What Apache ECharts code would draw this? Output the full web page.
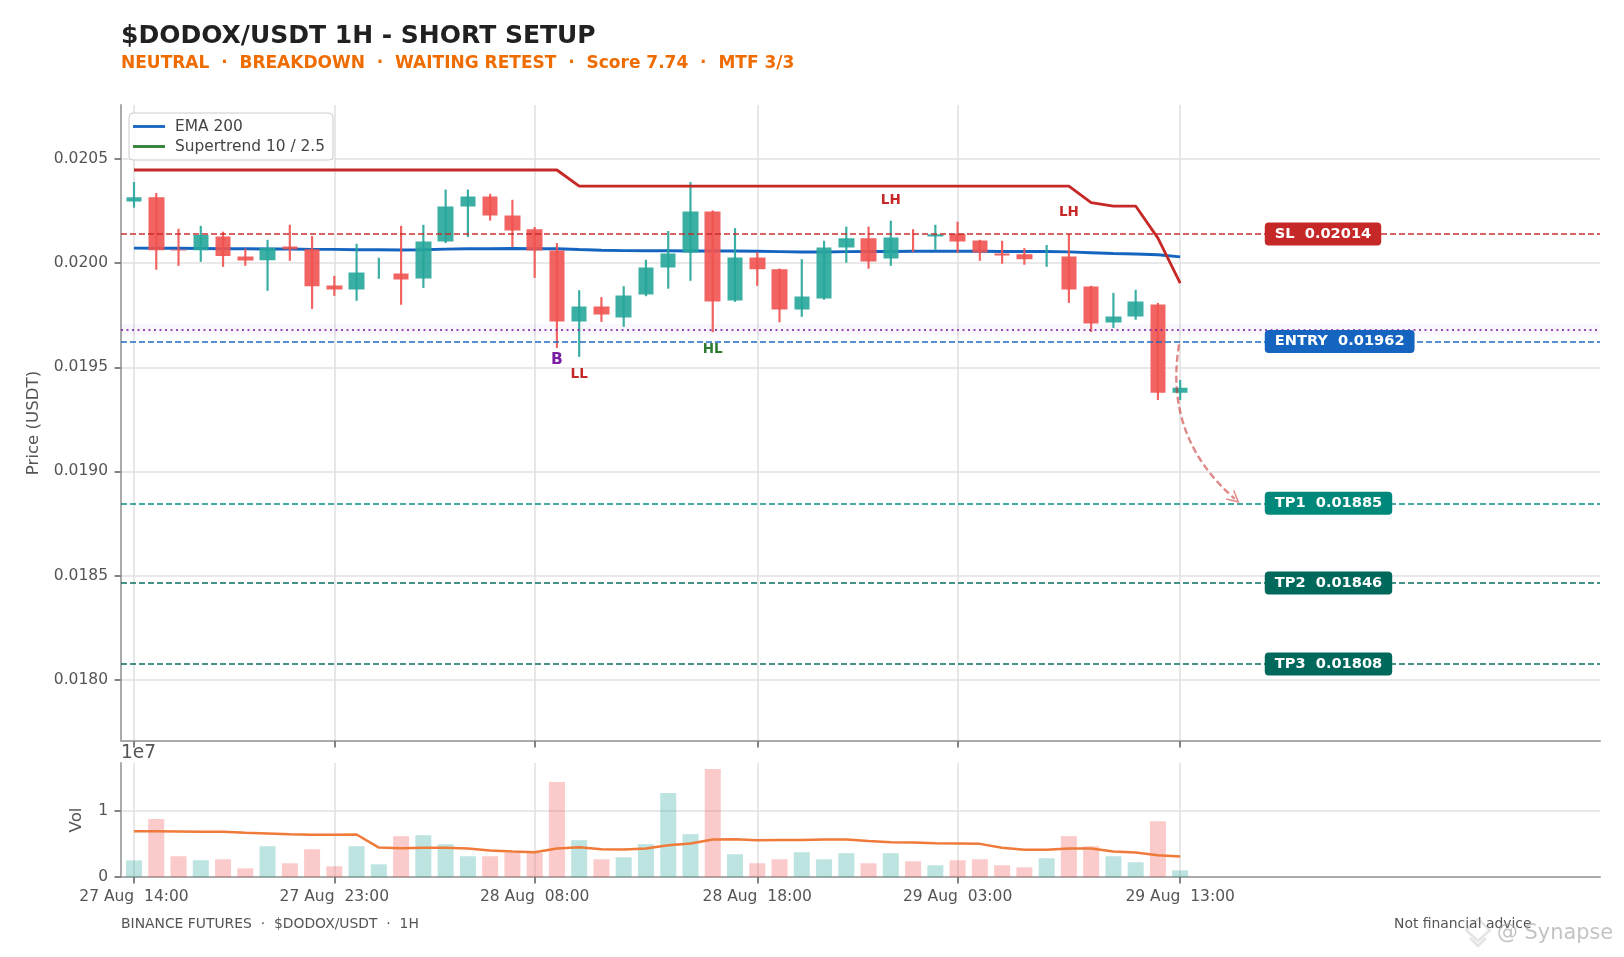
<!DOCTYPE html>
<html><head><meta charset="utf-8">
<style>html,body{margin:0;padding:0;background:#fff}#c{width:1624px;height:957px}</style>
<script src="https://cdn.jsdelivr.net/npm/echarts@6/dist/echarts.min.js"></script>
</head><body><div id="c"></div>
<script>
// ---- data ----
const opens  = [.020296,.020316,.020064,.020062,.020128,.020032,.020014,.020080,.020066,.019893,.019873,.019975,.019950,.019926,.020104,.020272,
                .020320,.020229,.020162,.020061,.019720,.019792,.019739,.019849,.019979,.020051,.020248,.019821,.020027,.019970,.019777,.019830,
                .020075,.020119,.020022,.0201101,.020128,.020141,.020109,.020046,.020042,.0200300,.020032,.019888,.019715,.019744,.019801,.019378];
const closes = [.020316,.020062,.020061,.020135,.020034,.020013,.020074,.020066,.019889,.019873,.019955,.0199751,.019921,.020104,.020272,.020320,
                .020229,.020157,.020061,.019720,.019792,.019753,.019845,.019979,.020046,.020248,.019816,.020027,.019970,.019777,.019840,.020075,
                .020119,.020008,.020123,.0201100,.020139,.020104,.020051,.020037,.020018,.0200301,.019873,.019710,.019744,.019816,.019378,.019402];
const lows   = [.020266,.019968,.019987,.020006,.019982,.019987,.019867,.020011,.019780,.019843,.019819,.019925,.019800,.019881,.020096,.020125,
                .020204,.020077,.019929,.019593,.019550,.019718,.019694,.019841,.019877,.019915,.019668,.019814,.019891,.019716,.019742,.019824,
                .020002,.019973,.019987,.020054,.020064,.020050,.020011,.019997,.019992,.019982,.019809,.019670,.019689,.019728,.019343,.019343];
const highs  = [.020389,.020337,.020165,.020179,.020151,.020069,.020112,.020184,.020130,.019939,.020093,.020026,.020179,.020184,.020353,.020353,
                .020333,.020304,.020173,.020096,.019870,.019837,.019889,.020016,.020154,.020389,.020253,.020168,.020053,.019974,.020019,.020107,
                .020175,.020175,.020204,.020163,.020184,.020199,.020112,.020107,.020072,.020087,.020139,.019891,.019857,.019872,.019809,.019439];
const ema200 = [.020072,.020071,.020071,.020070,.020069,.020069,.020068,.020068,.020066,.020066,.020064,.020064,.020063,.020064,.020067,.020069,
                .020069,.020070,.020069,.020069,.020065,.020062,.020060,.020059,.020059,.020058,.020058,.020058,.020057,.020055,.020053,.020053,
                .020055,.020056,.020056,.020057,.020057,.020057,.020057,.020056,.020056,.020056,.020054,.020050,.020046,.020044,.020040,.020030];
const supertrendBear = [.020447,.020447,.020447,.020447,.020447,.020447,.020447,.020447,.020447,.020447,.020447,.020447,.020447,.020447,.020447,.020447,
                .020447,.020447,.020447,.020447,.020370,.020370,.020370,.020370,.020370,.020370,.020370,.020370,.020370,.020370,.020370,.020370,
                .020370,.020370,.020370,.020370,.020370,.020370,.020370,.020370,.020370,.020370,.020370,.020290,.020274,.020274,.020120,.019904];
const volumes = [.25,.874,.313,.253,.268,.131,.465,.207,.419,.162,.465,.192,.616,.631,.495,.313,
                 .313,.364,.364,1.434,.556,.268,.298,.495,1.268,.646,1.631,.343,.207,.268,.374,.268,
                 .359,.207,.359,.237,.177,.253,.268,.177,.146,.283,.616,.465,.313,.222,.843,.101];
const volumeMA = [.692,.692,.687,.682,.682,.667,.657,.646,.636,.636,.641,.444,.434,.44,.44,.43,
                  .40,.384,.374,.43,.45,.42,.414,.43,.48,.505,.566,.57,.556,.56,.56,.566,
                  .566,.545,.525,.52,.51,.505,.50,.44,.412,.412,.43,.43,.384,.369,.328,.308];
const timeTickIndex = [0,9,18,28,37,47];
const timeTickLabels = ['27 Aug  14:00','27 Aug  23:00','28 Aug  08:00','28 Aug  18:00','29 Aug  03:00','29 Aug  13:00'];
const priceTicks = [0.018,0.0185,0.019,0.0195,0.02,0.0205];
const volumeTicks = [0,1];
const levelNames  = ['SL','ENTRY','TP1','TP2','TP3'];
const levelPrices = [0.02014,0.019624,0.018847,0.018464,0.018076];
const levelColors = ['#c62828','#1565c0','#00897b','#00695c','#00695c'];
const breakdownLevel = 0.01968;
const structureLabels = ['B','LL','HL','LH','LH'];
const structureIndex  = [19,20,26,34,42];
const structurePrices = [.019537,.019465,.019585,.020301,.020244];
const structureColors = ['#7b1fa2','#c62828','#2e7d32','#c62828','#c62828'];
const structureSizes  = [15.5,13.5,13.5,13.5,13.5];

// ---- chart ----
const FONT='DejaVu Sans', UP='rgba(38,166,154,0.9)', DOWN='rgba(239,83,80,0.9)';
const chart=echarts.init(document.getElementById('c'),null,{renderer:'canvas'});
const tickStyle={show:true,length:6.5,lineStyle:{color:'#777',width:1.8}};
const gridLine={show:true,lineStyle:{color:'#e2e2e2',width:1.6}};
const spine={show:true,onZero:false,lineStyle:{color:'#aaa',width:2}};
const xRange={type:'value',min:-0.584,max:65.86};
const up=i=>closes[i]>=opens[i];

chart.setOption({
  animation:false,
  backgroundColor:'#fff',
  textStyle:{fontFamily:FONT},
  title:[
    {text:'$DODOX/USDT 1H - SHORT SETUP',left:121,top:24,padding:0,textStyle:{fontFamily:FONT,fontSize:25,fontWeight:'bold',color:'#212121'}},
    {text:'NEUTRAL  ·  BREAKDOWN  ·  WAITING RETEST  ·  Score 7.74  ·  MTF 3/3',left:121,top:55.5,padding:0,textStyle:{fontFamily:FONT,fontSize:17,fontWeight:'bold',color:'#ef6c00'}},
    {text:'1e7',left:121,top:744,padding:0,textStyle:{fontFamily:FONT,fontSize:18.6,fontWeight:'normal',color:'#555'}},
    {text:'BINANCE FUTURES  ·  $DODOX/USDT  ·  1H',left:121,top:917,padding:0,textStyle:{fontFamily:FONT,fontSize:13.9,fontWeight:'normal',color:'#555'}},
    {text:'Not financial advice',left:1394,top:917,padding:0,textStyle:{fontFamily:FONT,fontSize:13.9,fontWeight:'normal',color:'#555'}},
    {text:'@ Synapse',left:1497,top:923,padding:0,textStyle:{fontFamily:FONT,fontSize:20.9,fontWeight:'normal',color:'rgba(170,170,170,0.7)'}}
  ],
  graphic:[
    {type:'polyline',silent:true,shape:{points:[[1466,930],[1478,919],[1490,930],[1478,941],[1466,930]]},style:{stroke:'rgba(205,205,205,0.55)',fill:'none',lineWidth:2.5}},
    {type:'polyline',silent:true,shape:{points:[[1470,938],[1478,946],[1486,938]]},style:{stroke:'rgba(205,205,205,0.55)',fill:'none',lineWidth:2.5}}
  ],
  legend:{
    orient:'vertical',left:129,top:113,padding:[6,8,6,4],itemGap:5,itemWidth:32,itemHeight:2.8,
    backgroundColor:'rgba(255,255,255,0.85)',borderColor:'#ccc',borderWidth:1,borderRadius:4,
    textStyle:{fontFamily:FONT,fontSize:15.4,color:'#444',padding:[0,0,0,5]},
    data:[{name:'EMA 200',icon:'rect',itemStyle:{color:'#1565c0',borderWidth:0}},
          {name:'Supertrend 10 / 2.5',icon:'rect',itemStyle:{color:'#2e7d32',borderWidth:0}}]
  },
  grid:[{left:121,top:105,width:1479,height:636},{left:121,top:763,width:1479,height:114}],
  xAxis:[
    {...xRange,gridIndex:0,axisLine:spine,axisTick:{...tickStyle,customValues:timeTickIndex},
     axisLabel:{show:false,customValues:timeTickIndex},splitLine:gridLine},
    {...xRange,gridIndex:1,axisLine:spine,axisTick:{...tickStyle,customValues:timeTickIndex},splitLine:gridLine,
     axisLabel:{customValues:timeTickIndex,fontFamily:FONT,fontSize:15.5,color:'#555',margin:12,hideOverlap:false,showMinLabel:true,showMaxLabel:true,
       formatter:v=>timeTickLabels[timeTickIndex.indexOf(v)]||''}}
  ],
  yAxis:[
    {type:'value',gridIndex:0,min:0.017706,max:0.020759,axisLine:spine,axisTick:{...tickStyle,customValues:priceTicks},splitLine:gridLine,
     axisLabel:{customValues:priceTicks,fontFamily:FONT,fontSize:15.5,color:'#555',margin:13,formatter:v=>v.toFixed(4)},
     name:'Price (USDT)',nameLocation:'middle',nameRotate:90,nameGap:79,nameTextStyle:{fontFamily:FONT,fontSize:16.6,color:'#555'}},
    {type:'value',gridIndex:1,min:0,max:1.72,axisLine:spine,axisTick:{...tickStyle,customValues:volumeTicks},splitLine:gridLine,
     axisLabel:{customValues:volumeTicks,fontFamily:FONT,fontSize:15.5,color:'#555',margin:13,formatter:v=>String(v)},
     name:'Vol',nameLocation:'middle',nameRotate:90,nameGap:36,nameTextStyle:{fontFamily:FONT,fontSize:16.6,color:'#555'}}
  ],
  series:[
    {name:'levels',type:'line',xAxisIndex:0,yAxisIndex:0,data:[],z:1,silent:true,
     markArea:{silent:true,itemStyle:{color:'rgba(123,31,162,0.035)'},data:[[{yAxis:breakdownLevel-0.000028},{yAxis:breakdownLevel+0.000028}]]},
     markLine:{silent:true,symbol:'none',precision:6,label:{show:false},animation:false,
       data:[...levelPrices.map((v,i)=>({yAxis:v,lineStyle:{color:levelColors[i],type:[6,3],width:1.8,opacity:0.72}})),
             {yAxis:breakdownLevel,lineStyle:{color:'#7b1fa2',type:[2,3.5],width:1.9,opacity:0.8}}]}},
    {name:'EMA 200',type:'line',xAxisIndex:0,yAxisIndex:0,z:2,showSymbol:false,symbol:'none',
     lineStyle:{color:'#1565c0',width:2.9},itemStyle:{color:'#1565c0'},data:ema200.map((v,i)=>[i,v])},
    {name:'Supertrend 10 / 2.5',type:'line',xAxisIndex:0,yAxisIndex:0,z:5,symbol:'none',lineStyle:{color:'#2e7d32',width:2.8},itemStyle:{color:'#2e7d32'},data:[]},
    {name:'Supertrend bear',type:'line',xAxisIndex:0,yAxisIndex:0,z:5,showSymbol:false,symbol:'none',
     lineStyle:{color:'#c62828',width:2.8},data:supertrendBear.map((v,i)=>[i,v])},
    {name:'Candles',type:'candlestick',xAxisIndex:0,yAxisIndex:0,z:3,barWidth:16,
     itemStyle:{color:UP,color0:DOWN,borderWidth:0,borderColor:UP,borderColor0:DOWN},
     data:opens.map((o,i)=>[i,o,closes[i],lows[i],highs[i]])},
    {name:'Wicks',type:'custom',xAxisIndex:0,yAxisIndex:0,z:4,silent:true,clip:false,encode:{x:0,y:[1,2]},
     data:opens.map((o,i)=>[i,lows[i],highs[i]]),
     renderItem:(p,api)=>{
       const a=api.coord([api.value(0),api.value(1)]),b=api.coord([api.value(0),api.value(2)]);
       return {type:'line',shape:{x1:a[0],y1:a[1],x2:b[0],y2:b[1]},style:{stroke:up(p.dataIndex)?UP:DOWN,lineWidth:2.2}};
     }},
    {name:'Structure',type:'scatter',xAxisIndex:0,yAxisIndex:0,symbolSize:0,z:6,silent:true,itemStyle:{opacity:1},
     data:structureLabels.map((t,i)=>({value:[structureIndex[i],structurePrices[i]],
        label:{show:true,position:'inside',formatter:t,fontFamily:FONT,fontWeight:'bold',fontSize:structureSizes[i],color:structureColors[i]}}))},
    {name:'Level tags',type:'scatter',xAxisIndex:0,yAxisIndex:0,symbolSize:0,z:7,silent:true,itemStyle:{opacity:1},
     data:levelNames.map((t,i)=>({value:[50.8,levelPrices[i]],
        label:{show:true,position:'right',distance:0,align:'left',verticalAlign:'middle',formatter:t+'  '+levelPrices[i].toFixed(5),
          fontFamily:FONT,fontWeight:'bold',fontSize:14.6,color:'#fff',backgroundColor:levelColors[i],padding:[4,10,4,10],borderRadius:4}}))},
    {name:'Trade path',type:'lines',coordinateSystem:'cartesian2d',xAxisIndex:0,yAxisIndex:0,z:6,silent:true,polyline:false,
     symbol:['none','path://M0 0 L9 13 L7 13 L0 3.5 L-7 13 L-9 13 Z'],symbolSize:[13,13],
     lineStyle:{color:'#c62828',type:[7,3.5],width:2.4,opacity:0.55,curveness:-0.28},
     data:[{coords:[[46.95,0.01961],[49.45,0.018869]]}]},
    {name:'Volume',type:'bar',xAxisIndex:1,yAxisIndex:1,barWidth:16,z:2,
     data:volumes.map((v,i)=>({value:[i,v],itemStyle:{color:up(i)?'rgba(38,166,154,0.3)':'rgba(239,83,80,0.3)'}}))},
    {name:'Volume MA',type:'line',xAxisIndex:1,yAxisIndex:1,z:3,showSymbol:false,symbol:'none',
     lineStyle:{color:'#ef7a3a',width:2.5},data:volumeMA.map((v,i)=>[i,v])}
  ]
});
</script></body></html>
